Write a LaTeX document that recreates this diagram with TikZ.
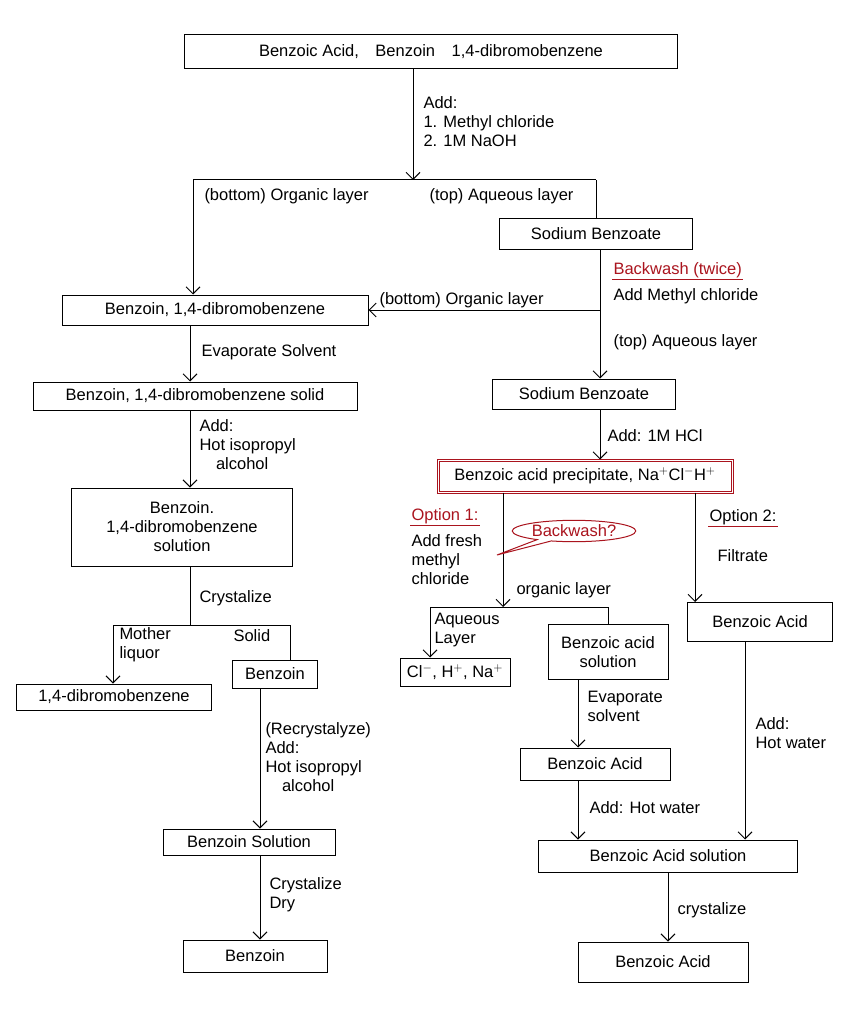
\documentclass[tikz,border=0pt]{standalone}
\usepackage{fontspec}
\setmainfont{Liberation Sans}
\usetikzlibrary{arrows.meta,shapes.callouts}
\definecolor{rd}{RGB}{170,20,30}
\begin{document}
\begin{tikzpicture}[x=1pt,y=-1pt,line width=1pt,
  every node/.style={font=\fontsize{16.5}{19}\selectfont},
  box/.style={draw,inner sep=2pt,align=center},
  lbl/.style={anchor=west,align=left,inner sep=1pt},
  arr/.style={-{Straight Barb[length=7pt]}}]
\useasboundingbox (0,0) rectangle (865,1024);
\fill[white] (0,0) rectangle (865,1024);
\newcommand{\bx}[6]{\node[box,minimum width=#4,minimum height=#5] (#1) at (#2,#3) {#6};}
\bx{top}{431}{52}{493}{34}{Benzoic Acid,\quad Benzoin\quad 1,4-dibromobenzene}
\bx{bd}{215}{310}{306}{30}{Benzoin, 1,4-dibromobenzene}
\bx{sb1}{596}{234}{193}{30}{Sodium Benzoate}
\bx{sb2}{584}{394}{183}{30}{Sodium Benzoate}
\bx{bds}{195}{396}{324}{28}{Benzoin, 1,4-dibromobenzene solid}
\bx{bdsol}{182}{527}{221}{78}{Benzoin.\\1,4-dibromobenzene\\solution}
\bx{dbb}{114}{697}{195}{26}{1,4-dibromobenzene}
\bx{bz1}{275}{674}{85}{28}{Benzoin}
\bx{bzs}{249}{842}{172}{26}{Benzoin Solution}
\bx{bz2}{255}{956}{144}{32}{Benzoin}
\node[box,draw=rd,double=white,double distance=1pt,draw,minimum width=294,minimum height=32] (ppt) at (585,476) {Benzoic acid precipitate, Na$^+$Cl$^-$H$^+$};
\bx{ions}{455}{672}{110}{28}{Cl$^-$, H$^+$, Na$^+$}
\bx{bas}{608}{652}{120}{55}{Benzoic acid\\solution}
\bx{ba1}{760}{622}{145}{39}{Benzoic Acid}
\bx{ba2}{595}{764}{150}{32}{Benzoic Acid}
\bx{bas2}{668}{856}{259}{32}{Benzoic Acid solution}
\bx{ba3}{663}{962}{170}{40}{Benzoic Acid}
% top split
\draw[arr] (413,0 |- top.south) -- (413,180);
\node[lbl] at (422,122) {Add:\\1. Methyl chloride\\2. 1M NaOH};
\draw (193,180) -- (596,180);
\draw[arr] (193,180) -- (193,0 |- bd.north);
\draw (596,180) -- (596,0 |- sb1.north);
\node[lbl] at (203,196) {(bottom) Organic layer};
\node[lbl] at (428,196) {(top) Aqueous layer};
% sodium benzoate backwash
\draw[arr] (600,0 |- sb1.south) -- (600,0 |- sb2.north);
\draw[arr] (600,310) -- (bd.east);
\node[lbl,text=rd] (bwt) at (612,270) {Backwash (twice)};
\draw[rd] (bwt.south west) -- (bwt.south east);
\node[lbl] at (612,296) {Add Methyl chloride};
\node[lbl] at (378,300) {(bottom) Organic layer};
\node[lbl] at (612,342) {(top) Aqueous layer};
% left column
\draw[arr] (190,0 |- bd.south) -- (190,0 |- bds.north);
\node[lbl] at (200,352) {Evaporate Solvent};
\draw[arr] (190,0 |- bds.south) -- (190,0 |- bdsol.north);
\node[lbl] at (198,445) {Add:\\Hot isopropyl\\\quad alcohol};
\draw (190,0 |- bdsol.south) -- (190,625);
\node[lbl] at (198,598) {Crystalize};
\draw (113,625) -- (290,625);
\draw[arr] (113,625) -- (113,0 |- dbb.north);
\draw (290,625) -- (290,0 |- bz1.north);
\node[lbl] at (118,645) {Mother\\liquor};
\node[lbl] at (232,636) {Solid};
\draw[arr] (260,0 |- bz1.south) -- (260,0 |- bzs.north);
\node[lbl] at (264,757) {(Recrystalyze)\\Add:\\Hot isopropyl\\\quad alcohol};
\draw[arr] (260,0 |- bzs.south) -- (260,0 |- bz2.north);
\node[lbl] at (268,895) {Crystalize\\Dry};
% right column
\draw[arr] (600,0 |- sb2.south) -- (600,0 |- ppt.north);
\node[lbl] at (606,436) {Add: 1M HCl};
\draw[arr] (503,0 |- ppt.south) -- (503,607);
\node[lbl,text=rd] (o1) at (410,516) {Option 1:};
\draw[rd] (o1.south west) -- (o1.south east);
\node[lbl] at (410,560) {Add fresh\\methyl\\chloride};
\node[draw=rd,ellipse callout,text=rd,callout absolute pointer={(497,555)},inner sep=1.5pt] (bw) at (574,531) {Backwash?};
\draw (430,607) -- (608,607);
\draw[arr] (430,607) -- (430,0 |- ions.north);
\draw (608,607) -- (608,0 |- bas.north);
\node[lbl] at (515,590) {organic layer};
\node[lbl] at (433,630) {Aqueous\\Layer};
\draw[arr] (695,0 |- ppt.south) -- (695,0 |- ba1.north);
\node[lbl] (o2) at (708,517) {Option 2:};
\draw[rd] (o2.south west) -- (o2.south east);
\node[lbl] at (716,556) {Filtrate};
\draw[arr] (578,0 |- bas.south) -- (578,0 |- ba2.north);
\node[lbl] at (586,706) {Evaporate\\solvent};
\draw[arr] (578,0 |- ba2.south) -- (578,0 |- bas2.north);
\node[lbl] at (588,808) {Add: Hot water};
\draw[arr] (745,0 |- ba1.south) -- (745,0 |- bas2.north);
\node[lbl] at (754,733) {Add:\\Hot water};
\draw[arr] (668,0 |- bas2.south) -- (668,0 |- ba3.north);
\node[lbl] at (676,910) {crystalize};
\end{tikzpicture}
\end{document}
